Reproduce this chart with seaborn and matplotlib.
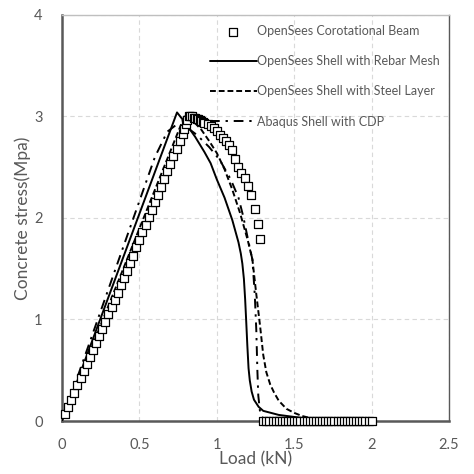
import matplotlib
matplotlib.use("Agg")
import matplotlib.pyplot as plt
import seaborn as sns
import pandas as pd

# ---- data ----
beam_x = [0.02, 0.04, 0.06, 0.08, 0.10, 0.12, 0.14, 0.16, 0.18, 0.20,
          0.22, 0.24, 0.26, 0.28, 0.30, 0.32, 0.34, 0.36, 0.38, 0.40,
          0.42, 0.44, 0.46, 0.48, 0.50, 0.52, 0.54, 0.56, 0.58, 0.60,
          0.62, 0.64, 0.66, 0.68, 0.70, 0.72, 0.74, 0.76, 0.78,
          0.79, 0.80, 0.81, 0.82, 0.83, 0.84, 0.85, 0.86, 0.87, 0.88,
          0.89, 0.90, 0.91, 0.92, 0.94, 0.96, 0.98, 1.00, 1.02, 1.04,
          1.06, 1.08, 1.10, 1.12, 1.14, 1.157, 1.18, 1.20, 1.22, 1.245,
          1.265, 1.28,
          1.30, 1.32, 1.34, 1.36, 1.38, 1.40, 1.42, 1.44, 1.46, 1.48,
          1.50, 1.52, 1.54, 1.56, 1.58, 1.60, 1.62, 1.64, 1.66, 1.68,
          1.70, 1.72, 1.74, 1.76, 1.78, 1.80, 1.82, 1.84, 1.86, 1.88,
          1.90, 1.92, 1.94, 1.96, 1.98, 2.00]
beam_y = [0.07, 0.14, 0.21, 0.28, 0.35, 0.42, 0.49, 0.56, 0.63, 0.70,
          0.77, 0.84, 0.91, 0.98, 1.05, 1.12, 1.19, 1.26, 1.34, 1.41,
          1.48, 1.56, 1.63, 1.71, 1.78, 1.86, 1.93, 2.01, 2.08, 2.16,
          2.23, 2.31, 2.38, 2.46, 2.53, 2.61, 2.68, 2.76, 2.83,
          2.88, 2.93, 2.97, 3.00, 3.00, 3.00, 2.99, 2.99, 2.98, 2.98,
          2.97, 2.96, 2.95, 2.94, 2.93, 2.91, 2.89, 2.86, 2.82, 2.79,
          2.76, 2.72, 2.67, 2.58, 2.50, 2.44, 2.39, 2.32, 2.23, 2.09,
          1.94, 1.79,
          0.0, 0.0, 0.0, 0.0, 0.0, 0.0, 0.0, 0.0, 0.0, 0.0,
          0.0, 0.0, 0.0, 0.0, 0.0, 0.0, 0.0, 0.0, 0.0, 0.0,
          0.0, 0.0, 0.0, 0.0, 0.0, 0.0, 0.0, 0.0, 0.0, 0.0,
          0.0, 0.0, 0.0, 0.0, 0.0, 0.0]

mesh_x = [0.02, 0.743, 0.80, 0.86, 0.92, 0.96, 1.00, 1.05, 1.10, 1.12,
          1.14, 1.155, 1.165, 1.175, 1.183, 1.19, 1.197, 1.205, 1.213,
          1.225, 1.24, 1.27, 1.30, 1.35, 1.40, 1.50, 1.60]
mesh_y = [0.07, 3.04, 2.93, 2.80, 2.65, 2.54, 2.38, 2.20, 1.98, 1.87,
          1.76, 1.65, 1.55, 1.40, 1.20, 0.98, 0.75, 0.52, 0.40,
          0.29, 0.21, 0.14, 0.10, 0.08, 0.06, 0.04, 0.02]

layer_x = [0.02, 0.79, 0.85, 0.90, 0.95, 1.00, 1.05, 1.10, 1.15, 1.20,
           1.23, 1.255, 1.28, 1.30, 1.32, 1.345, 1.37, 1.40, 1.45, 1.50,
           1.55, 1.60, 1.65]
layer_y = [0.07, 3.00, 2.95, 2.87, 2.76, 2.64, 2.48, 2.28, 2.05, 1.78,
           1.59, 1.25, 0.93, 0.65, 0.48, 0.36, 0.28, 0.20, 0.12, 0.08,
           0.05, 0.03, 0.01]

cdp_x = [0.0, 0.30, 0.60, 0.68, 0.74, 0.80, 0.87, 0.95, 1.02, 1.09,
         1.14, 1.17, 1.20, 1.23, 1.245, 1.255, 1.262, 1.268, 1.28, 1.30,
         1.35]
cdp_y = [0.0, 1.30, 2.60, 2.85, 2.92, 2.90, 2.82, 2.70, 2.57, 2.38,
         2.20, 2.02, 1.80, 1.59, 1.25, 0.90, 0.50, 0.25, 0.08, 0.02,
         0.0]

labels = ["OpenSees Corotational Beam", "OpenSees Shell with Rebar Mesh",
          "OpenSees Shell with Steel Layer", "Abaqus Shell with CDP"]
x_ticks = [0, 0.5, 1, 1.5, 2, 2.5]
x_tick_labels = ["0", "0.5", "1", "1.5", "2", "2.5"]
y_ticks = [0, 1, 2, 3, 4]
y_tick_labels = ["0", "1", "2", "3", "4"]

# ---- plotting ----
sns.set_style("white")
plt.rcParams["font.family"] = ["Lato", "DejaVu Sans"]
gray = "#595959"

fig = plt.figure(figsize=(4.74, 4.74), dpi=100)
ax = fig.add_axes([0.1308, 0.1118, 0.8165, 0.8566])

df_beam = pd.DataFrame({"x": beam_x, "y": beam_y})
sns.scatterplot(data=df_beam, x="x", y="y", ax=ax, marker="s", s=36,
                facecolor="white", edgecolor="black", linewidth=0.9,
                zorder=5, label=labels[0], clip_on=False)
sns.lineplot(x=mesh_x, y=mesh_y, ax=ax, sort=False, color="black",
             linewidth=1.4, label=labels[1], zorder=3)
sns.lineplot(x=layer_x, y=layer_y, ax=ax, sort=False, color="black",
             linewidth=1.4, linestyle=(0, (3, 1.5)), label=labels[2], zorder=3)
sns.lineplot(x=cdp_x, y=cdp_y, ax=ax, sort=False, color="black",
             linewidth=1.4, linestyle=(0, (5, 3, 1.2, 3)), label=labels[3], zorder=3)

ax.set_xlim(0, 2.5)
ax.set_ylim(0, 4)
ax.set_xticks(x_ticks)
ax.set_xticklabels(x_tick_labels)
ax.set_yticks(y_ticks)
ax.set_yticklabels(y_tick_labels)
ax.tick_params(axis="both", length=0, labelsize=10.5, colors=gray)
ax.tick_params(axis="x", pad=12)
ax.tick_params(axis="y", pad=14)
ax.grid(True, color="#d9d9d9", linestyle=(0, (4, 3)), linewidth=0.8)
ax.set_axisbelow(True)

ax.set_xlabel("Load (kN)", fontsize=12.5, color=gray, labelpad=0)
ax.set_ylabel("Concrete stress(Mpa)", fontsize=12.5, color=gray, labelpad=2)

for side in ["left", "bottom"]:
    ax.spines[side].set_color(gray)
    ax.spines[side].set_linewidth(1.8)
ax.spines["right"].set_color(gray)
ax.spines["right"].set_linewidth(1.0)
ax.spines["top"].set_color("#bfbfbf")
ax.spines["top"].set_linewidth(1.0)

leg = ax.legend(loc="upper left", bbox_to_anchor=(0.382, 0.975), frameon=False,
                fontsize=9, labelcolor=gray, handlelength=3.76,
                handletextpad=0.05, labelspacing=1.45, borderaxespad=0,
                borderpad=0)

fig.savefig("out.png", dpi=100)
